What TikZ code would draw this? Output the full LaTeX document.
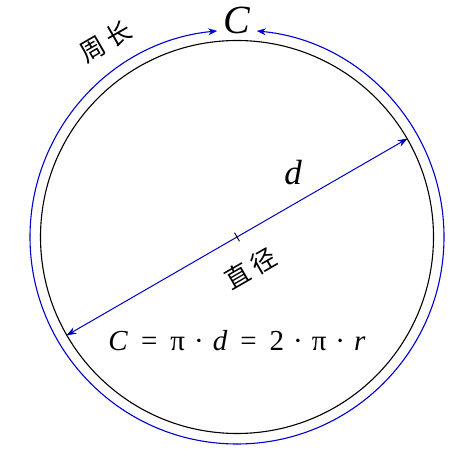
\documentclass[tikz,border=0pt]{standalone}
\usepackage{fontspec}
\setmainfont{Liberation Serif}
\newfontfamily\cjk{Noto Sans CJK SC}
\usetikzlibrary{arrows.meta,calc}
\newcommand{\eqsp}{\hspace{13pt}=\hspace{13pt}}
\newcommand{\dotsp}{\hspace{9pt}·\hspace{9pt}}
\begin{document}
\begin{tikzpicture}[x=1pt,y=1pt,
  bluearc/.style={draw=blue!80!black,line width=1.1pt,-{Stealth[length=9pt,width=7pt]}},
  diam/.style={draw=blue!75!black,line width=1pt,{Stealth[length=10pt,width=7pt]}-{Stealth[length=10pt,width=7pt]}},
  lbl/.style={inner sep=0pt},
  cjklbl/.style={inner sep=0pt,font=\fontsize{25}{27}\selectfont\cjk,rotate=30}]
\useasboundingbox (0,0) rectangle (474,474);
\fill[white] (0,0) rectangle (474,474);
\coordinate (O) at (237,237);
\node[circle,draw=black,line width=1.1pt,minimum size=393pt,inner sep=0pt] (circ) at (O) {};
% blue circumference arcs
\coordinate (B) at ($(O)+(270:207)$);
\draw[bluearc] (B) arc[start angle=-90,end angle=84.5,radius=207];
\draw[bluearc] (B) arc[start angle=270,end angle=95.5,radius=207];
% diameter
\draw[diam] (circ.210) -- (circ.30);
\coordinate (t1) at ($(O)+(120:5)$);
\coordinate (t2) at ($(O)+(-60:5)$);
\draw[line width=0.9pt] (t1) -- (t2);
% labels
\node[lbl,font=\fontsize{40}{42}\selectfont\itshape] (C) at (237,454) {C};
\node[lbl,font=\fontsize{35}{37}\selectfont\itshape] (d) at (293,301) {d};
\node[cjklbl] (zc) at (106,432) {周\hspace{5pt}长};
\node[cjklbl] (zj) at (251,205) {直\hspace{5pt}径};
\node[lbl,font=\fontsize{29}{31}\selectfont] (f) at (237,133) {\textit{C}\eqsp π\dotsp\textit{d}\eqsp 2\dotsp π\dotsp\textit{r}};
\end{tikzpicture}
\end{document}
